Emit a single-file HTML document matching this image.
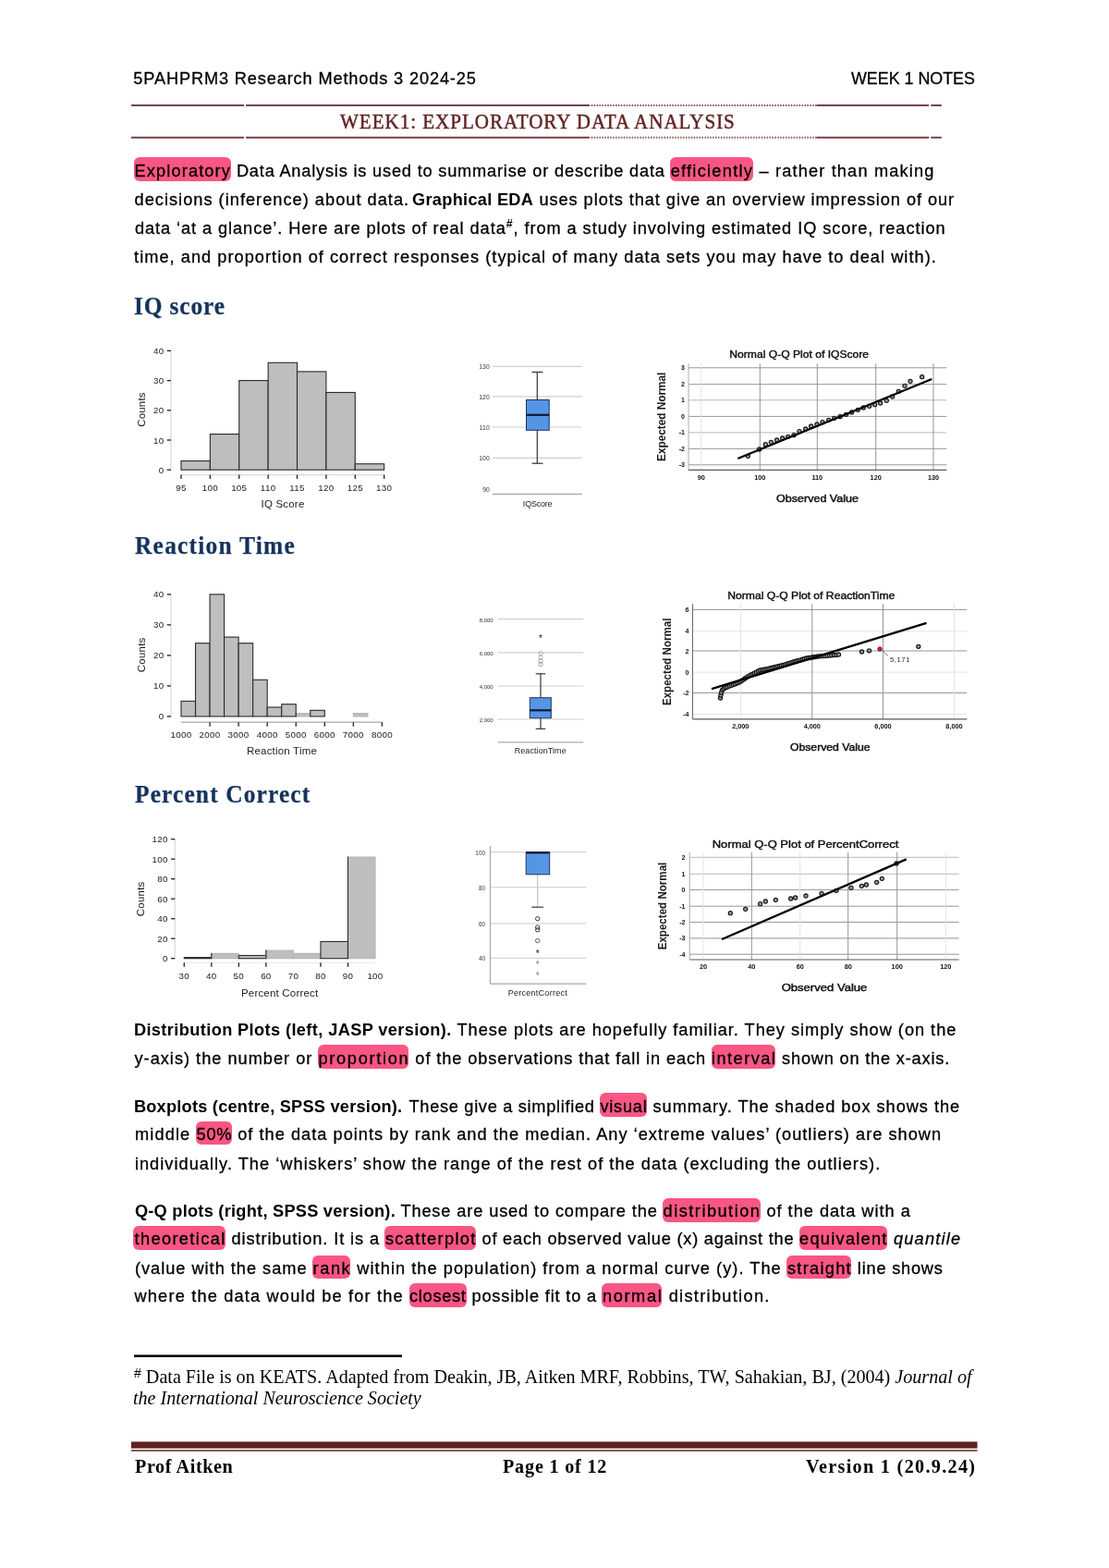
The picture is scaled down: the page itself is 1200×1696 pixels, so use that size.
<!DOCTYPE html>
<html lang="en">
<head>
<meta charset="utf-8">
<title>WEEK1: Exploratory Data Analysis</title>
<style>
html,body{margin:0;padding:0;background:#fff}
h1,h2,p{margin:0;padding:0;font:inherit}
body{width:1200px;height:1696px;position:relative;overflow:hidden;color:#000}
.t{position:absolute;display:block;white-space:nowrap;line-height:0;height:0;transform-origin:0 0;color:#000;font-weight:normal;font-style:normal}
.sans{font-family:"Liberation Sans",sans-serif;-webkit-text-stroke:0.3px currentColor}
.serif{font-family:"Liberation Serif",serif}
.sans b{font-weight:bold;-webkit-text-stroke:0}
.t i{font-style:italic}
.sup{font-size:0.68em;position:relative;top:-0.59em}
.fsup{font-family:"Liberation Sans",sans-serif;font-size:0.7em;position:relative;top:-0.37em}
.hl{position:absolute;display:block;background:#f95683;border-radius:6px}
svg{position:absolute;left:0;top:0}
svg text{font-family:"Liberation Sans",sans-serif}
</style>
</head>
<body>
<i class="hl" style="left:145px;top:169.5px;width:104.5px;height:26.3px"></i>
<i class="hl" style="left:725px;top:169.5px;width:89.5px;height:26.3px"></i>
<i class="hl" style="left:343.8px;top:1130px;width:98.5px;height:26.3px"></i>
<i class="hl" style="left:769.5px;top:1130px;width:69.9px;height:26.3px"></i>
<i class="hl" style="left:648.8px;top:1182px;width:51.5px;height:26.3px"></i>
<i class="hl" style="left:212px;top:1212.5px;width:39px;height:25px"></i>
<i class="hl" style="left:717px;top:1295.5px;width:105.5px;height:26.3px"></i>
<i class="hl" style="left:143.8px;top:1325.8px;width:100px;height:26.7px"></i>
<i class="hl" style="left:416.3px;top:1325.8px;width:98.7px;height:26.7px"></i>
<i class="hl" style="left:864.5px;top:1325.8px;width:95.5px;height:26.7px"></i>
<i class="hl" style="left:338px;top:1357.5px;width:41.3px;height:25.5px"></i>
<i class="hl" style="left:851.3px;top:1357.5px;width:70px;height:25.5px"></i>
<i class="hl" style="left:442.5px;top:1388.3px;width:62px;height:26.2px"></i>
<i class="hl" style="left:651.3px;top:1388.3px;width:65px;height:26.2px"></i>
<header>
<span class="t sans" id="hL" style="left:144.3px;top:85px;font-size:18.2px;letter-spacing:0.859px;">5PAHPRM3 Research Methods 3 2024-25</span>
<span class="t sans" id="hR" style="left:920.9px;top:85px;font-size:18.2px;transform:scaleX(0.9813);">WEEK 1 NOTES</span>
</header>
<main>
<h1>
<span class="t serif" id="ttl" style="left:368px;top:131px;font-size:23.7px;letter-spacing:1.068px;transform:scaleX(0.89);-webkit-text-stroke:0.5px;color:#632423">WEEK1: EXPLORATORY DATA ANALYSIS</span>
</h1>
<p>
<span class="t sans" id="p1" style="left:145.5px;top:185px;font-size:18.2px;"><span style="letter-spacing:1.140px">Exploratory</span><span style="letter-spacing:0.810px"> Data Analysis is used to summarise or describe data </span><span style="letter-spacing:1.280px">efficiently</span><span style="letter-spacing:1.164px"> – rather than making</span></span>
<span class="t sans" id="p2a" style="left:145.5px;top:216px;font-size:18.2px;letter-spacing:1.023px;">decisions (inference) about data. </span>
<span class="t sans" id="p2b" style="left:446px;top:216px;font-size:18.2px;letter-spacing:0.298px;"><b>Graphical EDA</b> </span>
<span class="t sans" id="p2c" style="left:583.4px;top:216px;font-size:18.2px;letter-spacing:0.947px;">uses plots that give an overview impression of our</span>
<span class="t sans" id="p3" style="left:145.9px;top:247px;font-size:18.2px;letter-spacing:0.934px;">data ‘at a glance’. Here are plots of real data<b class="sup">#</b>, from a study involving estimated IQ score, reaction</span>
<span class="t sans" id="p4" style="left:145.1px;top:278px;font-size:18.2px;letter-spacing:1.036px;">time, and proportion of correct responses (typical of many data sets you may have to deal with).</span>
</p>
<h2>
<span class="t serif" id="s1" style="left:145.37px;top:331px;font-size:26.5px;letter-spacing:0.885px;transform:scaleX(0.96);-webkit-text-stroke:0.25px;color:#15335c"><b>IQ score</b></span>
</h2>
<h2>
<span class="t serif" id="s2" style="left:146.38px;top:590px;font-size:26.5px;letter-spacing:1.283px;transform:scaleX(0.96);-webkit-text-stroke:0.25px;color:#15335c"><b>Reaction Time</b></span>
</h2>
<h2>
<span class="t serif" id="s3" style="left:146.38px;top:859px;font-size:26.5px;letter-spacing:1.171px;transform:scaleX(0.96);-webkit-text-stroke:0.25px;color:#15335c"><b>Percent Correct</b></span>
</h2>
<p>
<span class="t sans" id="a1a" style="left:144.9px;top:1114px;font-size:18.2px;letter-spacing:0.392px;"><b>Distribution Plots (left, JASP version).</b> </span>
<span class="t sans" id="a1b" style="left:494.5px;top:1114px;font-size:18.2px;letter-spacing:0.983px;">These plots are hopefully familiar. They simply show (on the</span>
<span class="t sans" id="a2" style="left:145.5px;top:1145px;font-size:18.2px;"><span style="letter-spacing:1.000px">y-axis) the number or </span><span style="letter-spacing:1.710px">proportion</span><span style="letter-spacing:0.910px"> of the observations that fall in each </span><span style="letter-spacing:1.437px">interval</span><span style="letter-spacing:0.809px"> shown on the x-axis.</span></span>
</p>
<p>
<span class="t sans" id="b1a" style="left:144.9px;top:1197px;font-size:18.2px;letter-spacing:0.235px;"><b>Boxplots (centre, SPSS version).</b> </span>
<span class="t sans" id="b1b" style="left:442.5px;top:1197px;font-size:18.2px;"><span style="letter-spacing:0.702px">These give a simplified </span><span style="letter-spacing:0.760px">visual</span><span style="letter-spacing:0.972px"> summary. The shaded box shows the</span></span>
<span class="t sans" id="b2" style="left:145.9px;top:1227px;font-size:18.2px;"><span style="letter-spacing:1.151px">middle </span><span style="letter-spacing:0.697px">50%</span><span style="letter-spacing:1.028px"> of the data points by rank and the median. Any ‘extreme values’ (outliers) are shown</span></span>
<span class="t sans" id="b3" style="left:145.9px;top:1259px;font-size:18.2px;letter-spacing:1.032px;">individually. The ‘whiskers’ show the range of the rest of the data (excluding the outliers).</span>
</p>
<p>
<span class="t sans" id="c1a" style="left:145.9px;top:1310px;font-size:18.2px;letter-spacing:0.258px;"><b>Q-Q plots (right, SPSS version).</b> </span>
<span class="t sans" id="c1b" style="left:433.4px;top:1310px;font-size:18.2px;"><span style="letter-spacing:0.880px">These are used to compare the </span><span style="letter-spacing:1.485px">distribution</span><span style="letter-spacing:0.988px"> of the data with a</span></span>
<span class="t sans" id="c2" style="left:145.5px;top:1340px;font-size:18.2px;"><span style="letter-spacing:1.378px">theoretical</span><span style="letter-spacing:0.899px"> distribution. It is a </span><span style="letter-spacing:1.359px">scatterplot</span><span style="letter-spacing:0.772px"> of each observed value (x) against the </span><span style="letter-spacing:1.264px">equivalent</span><span style="letter-spacing:1.212px"> <i>quantile</i></span></span>
<span class="t sans" id="c3" style="left:145.9px;top:1372px;font-size:18.2px;"><span style="letter-spacing:0.992px">(value with the same </span><span style="letter-spacing:1.570px">rank</span><span style="letter-spacing:1.047px"> within the population) from a normal curve (y). The </span><span style="letter-spacing:1.306px">straight</span><span style="letter-spacing:0.793px"> line shows</span></span>
<span class="t sans" id="c4" style="left:145.5px;top:1402px;font-size:18.2px;"><span style="letter-spacing:1.179px">where the data would be for the </span><span style="letter-spacing:0.698px">closest</span><span style="letter-spacing:0.835px"> possible fit to a </span><span style="letter-spacing:1.641px">normal</span><span style="letter-spacing:1.305px"> distribution.</span></span>
</p>
</main>
<footer>
<p>
<span class="t serif" id="f1" style="left:144.73px;top:1489px;font-size:21.4px;transform:scaleX(0.9400);"><span class="fsup">#</span> Data File is on KEATS. Adapted from Deakin, JB, Aitken MRF, Robbins, TW, Sahakian, BJ, (2004) <i>Journal of</i></span>
<span class="t serif" id="f2" style="left:143.95px;top:1512px;font-size:21.4px;transform:scaleX(0.9378);"><i>the International Neuroscience Society</i></span>
</p>
<p>
<span class="t serif" id="g1" style="left:145.82px;top:1586px;font-size:20.8px;letter-spacing:0.600px;transform:scaleX(0.97)"><b>Prof Aitken</b></span>
<span class="t serif" id="g2" style="left:543.8px;top:1586px;font-size:20.8px;letter-spacing:0.818px;transform:scaleX(0.97)"><b>Page 1 of 12</b></span>
<span class="t serif" id="g3" style="left:872.19px;top:1586px;font-size:20.8px;letter-spacing:1.345px;transform:scaleX(0.97)"><b>Version 1 (20.9.24)</b></span>
</p>
</footer>
<svg width="1200" height="1696" viewBox="0 0 1200 1696">
<rect x="142" y="113" width="122" height="1.9" fill="#733837"/>
<rect x="266" y="113" width="372" height="1.9" fill="#733837"/>
<rect x="883.5" y="113" width="121.7" height="1.9" fill="#733837"/>
<rect x="1007.3" y="113" width="11.5" height="1.9" fill="#733837"/>
<line x1="639.75" y1="113.95" x2="883.5" y2="113.95" stroke="#855150" stroke-width="1.9" stroke-dasharray="1.5 1.42"/>
<rect x="142" y="147.8" width="122" height="1.9" fill="#733837"/>
<rect x="266" y="147.8" width="372" height="1.9" fill="#733837"/>
<rect x="883.5" y="147.8" width="121.7" height="1.9" fill="#733837"/>
<rect x="1007.3" y="147.8" width="11.5" height="1.9" fill="#733837"/>
<line x1="639.75" y1="148.75" x2="883.5" y2="148.75" stroke="#855150" stroke-width="1.9" stroke-dasharray="1.5 1.42"/>
<rect x="145" y="1465.4" width="290" height="2.6" fill="#000"/>
<rect x="142" y="1559.4" width="915.5" height="7.2" fill="#5f2221"/>
<rect x="142" y="1568" width="915.5" height="1.9" fill="#85504f"/>
<g>
<rect x="196" y="498.54" width="31.38" height="9.66" fill="#bebebe" stroke="#2a2a2a" stroke-width="1.1"/>
<rect x="227.38" y="469.56" width="31.38" height="38.64" fill="#bebebe" stroke="#2a2a2a" stroke-width="1.1"/>
<rect x="258.76" y="411.6" width="31.38" height="96.6" fill="#bebebe" stroke="#2a2a2a" stroke-width="1.1"/>
<rect x="290.14" y="392.28" width="31.38" height="115.92" fill="#bebebe" stroke="#2a2a2a" stroke-width="1.1"/>
<rect x="321.52" y="401.94" width="31.38" height="106.26" fill="#bebebe" stroke="#2a2a2a" stroke-width="1.1"/>
<rect x="352.9" y="424.48" width="31.38" height="83.72" fill="#bebebe" stroke="#2a2a2a" stroke-width="1.1"/>
<rect x="384.28" y="501.76" width="31.38" height="6.44" fill="#bebebe" stroke="#2a2a2a" stroke-width="1.1"/>
<line x1="185" y1="379.4" x2="185" y2="508.2" stroke="#d8d8d8" stroke-width="1.2"/>
<line x1="180.7" y1="508.2" x2="185" y2="508.2" stroke="#222" stroke-width="1.3"/>
<text x="177.5" y="511.7" font-size="9.8" text-anchor="end" font-weight="normal" fill="#222" letter-spacing="0.3">0</text>
<line x1="180.7" y1="476" x2="185" y2="476" stroke="#222" stroke-width="1.3"/>
<text x="177.5" y="479.5" font-size="9.8" text-anchor="end" font-weight="normal" fill="#222" letter-spacing="0.3">10</text>
<line x1="180.7" y1="443.8" x2="185" y2="443.8" stroke="#222" stroke-width="1.3"/>
<text x="177.5" y="447.3" font-size="9.8" text-anchor="end" font-weight="normal" fill="#222" letter-spacing="0.3">20</text>
<line x1="180.7" y1="411.6" x2="185" y2="411.6" stroke="#222" stroke-width="1.3"/>
<text x="177.5" y="415.1" font-size="9.8" text-anchor="end" font-weight="normal" fill="#222" letter-spacing="0.3">30</text>
<line x1="180.7" y1="379.4" x2="185" y2="379.4" stroke="#222" stroke-width="1.3"/>
<text x="177.5" y="382.9" font-size="9.8" text-anchor="end" font-weight="normal" fill="#222" letter-spacing="0.3">40</text>
<line x1="196" y1="513.6" x2="415.66" y2="513.6" stroke="#d8d8d8" stroke-width="1.2"/>
<line x1="196" y1="513.6" x2="196" y2="518.1" stroke="#222" stroke-width="1.3"/>
<text x="196" y="530.7" font-size="9.8" text-anchor="middle" font-weight="normal" fill="#222" letter-spacing="0.3">95</text>
<line x1="227.38" y1="513.6" x2="227.38" y2="518.1" stroke="#222" stroke-width="1.3"/>
<text x="227.38" y="530.7" font-size="9.8" text-anchor="middle" font-weight="normal" fill="#222" letter-spacing="0.3">100</text>
<line x1="258.76" y1="513.6" x2="258.76" y2="518.1" stroke="#222" stroke-width="1.3"/>
<text x="258.76" y="530.7" font-size="9.8" text-anchor="middle" font-weight="normal" fill="#222" letter-spacing="0.3">105</text>
<line x1="290.14" y1="513.6" x2="290.14" y2="518.1" stroke="#222" stroke-width="1.3"/>
<text x="290.14" y="530.7" font-size="9.8" text-anchor="middle" font-weight="normal" fill="#222" letter-spacing="0.3">110</text>
<line x1="321.52" y1="513.6" x2="321.52" y2="518.1" stroke="#222" stroke-width="1.3"/>
<text x="321.52" y="530.7" font-size="9.8" text-anchor="middle" font-weight="normal" fill="#222" letter-spacing="0.3">115</text>
<line x1="352.9" y1="513.6" x2="352.9" y2="518.1" stroke="#222" stroke-width="1.3"/>
<text x="352.9" y="530.7" font-size="9.8" text-anchor="middle" font-weight="normal" fill="#222" letter-spacing="0.3">120</text>
<line x1="384.28" y1="513.6" x2="384.28" y2="518.1" stroke="#222" stroke-width="1.3"/>
<text x="384.28" y="530.7" font-size="9.8" text-anchor="middle" font-weight="normal" fill="#222" letter-spacing="0.3">125</text>
<line x1="415.66" y1="513.6" x2="415.66" y2="518.1" stroke="#222" stroke-width="1.3"/>
<text x="415.66" y="530.7" font-size="9.8" text-anchor="middle" font-weight="normal" fill="#222" letter-spacing="0.3">130</text>
<text x="306" y="549.3" font-size="11.5" text-anchor="middle" font-weight="normal" fill="#222" letter-spacing="0.2">IQ Score</text>
<text x="157" y="443" font-size="11.5" text-anchor="middle" font-weight="normal" fill="#222" transform="rotate(-90 157 443)" letter-spacing="0.2">Counts</text>
</g>
<g>
<rect x="196" y="758.4" width="15.53" height="16.5" fill="#bebebe" stroke="#2a2a2a" stroke-width="1.1"/>
<rect x="211.53" y="695.7" width="15.53" height="79.2" fill="#bebebe" stroke="#2a2a2a" stroke-width="1.1"/>
<rect x="227.06" y="642.9" width="15.53" height="132" fill="#bebebe" stroke="#2a2a2a" stroke-width="1.1"/>
<rect x="242.59" y="689.1" width="15.53" height="85.8" fill="#bebebe" stroke="#2a2a2a" stroke-width="1.1"/>
<rect x="258.12" y="695.7" width="15.53" height="79.2" fill="#bebebe" stroke="#2a2a2a" stroke-width="1.1"/>
<rect x="273.65" y="735.3" width="15.53" height="39.6" fill="#bebebe" stroke="#2a2a2a" stroke-width="1.1"/>
<rect x="289.18" y="765" width="15.53" height="9.9" fill="#bebebe" stroke="#2a2a2a" stroke-width="1.1"/>
<rect x="304.71" y="761.7" width="15.53" height="13.2" fill="#bebebe" stroke="#2a2a2a" stroke-width="1.1"/>
<rect x="320.24" y="771.6" width="15.53" height="3.3" fill="#bebebe" stroke="#b4b4b4" stroke-width="1.1"/>
<rect x="335.77" y="768.3" width="15.53" height="6.6" fill="#bebebe" stroke="#2a2a2a" stroke-width="1.1"/>
<rect x="382.36" y="771.6" width="15.53" height="3.3" fill="#bebebe" stroke="#b4b4b4" stroke-width="1.1"/>
<line x1="320.24" y1="771.1" x2="320.24" y2="775.4" stroke="#2a2a2a" stroke-width="1.1"/>
<line x1="185" y1="642.9" x2="185" y2="774.9" stroke="#d8d8d8" stroke-width="1.2"/>
<line x1="180.7" y1="774.9" x2="185" y2="774.9" stroke="#222" stroke-width="1.3"/>
<text x="177.5" y="778.4" font-size="9.8" text-anchor="end" font-weight="normal" fill="#222" letter-spacing="0.3">0</text>
<line x1="180.7" y1="741.9" x2="185" y2="741.9" stroke="#222" stroke-width="1.3"/>
<text x="177.5" y="745.4" font-size="9.8" text-anchor="end" font-weight="normal" fill="#222" letter-spacing="0.3">10</text>
<line x1="180.7" y1="708.9" x2="185" y2="708.9" stroke="#222" stroke-width="1.3"/>
<text x="177.5" y="712.4" font-size="9.8" text-anchor="end" font-weight="normal" fill="#222" letter-spacing="0.3">20</text>
<line x1="180.7" y1="675.9" x2="185" y2="675.9" stroke="#222" stroke-width="1.3"/>
<text x="177.5" y="679.4" font-size="9.8" text-anchor="end" font-weight="normal" fill="#222" letter-spacing="0.3">30</text>
<line x1="180.7" y1="642.9" x2="185" y2="642.9" stroke="#222" stroke-width="1.3"/>
<text x="177.5" y="646.4" font-size="9.8" text-anchor="end" font-weight="normal" fill="#222" letter-spacing="0.3">40</text>
<line x1="196" y1="781.2" x2="413.42" y2="781.2" stroke="#a8a8a8" stroke-width="1.2"/>
<text x="196" y="797.8" font-size="9.8" text-anchor="middle" font-weight="normal" fill="#222" letter-spacing="0.3">1000</text>
<line x1="227.06" y1="781.2" x2="227.06" y2="785.7" stroke="#222" stroke-width="1.3"/>
<text x="227.06" y="797.8" font-size="9.8" text-anchor="middle" font-weight="normal" fill="#222" letter-spacing="0.3">2000</text>
<line x1="258.12" y1="781.2" x2="258.12" y2="785.7" stroke="#222" stroke-width="1.3"/>
<text x="258.12" y="797.8" font-size="9.8" text-anchor="middle" font-weight="normal" fill="#222" letter-spacing="0.3">3000</text>
<line x1="289.18" y1="781.2" x2="289.18" y2="785.7" stroke="#222" stroke-width="1.3"/>
<text x="289.18" y="797.8" font-size="9.8" text-anchor="middle" font-weight="normal" fill="#222" letter-spacing="0.3">4000</text>
<line x1="320.24" y1="781.2" x2="320.24" y2="785.7" stroke="#222" stroke-width="1.3"/>
<text x="320.24" y="797.8" font-size="9.8" text-anchor="middle" font-weight="normal" fill="#222" letter-spacing="0.3">5000</text>
<line x1="351.3" y1="781.2" x2="351.3" y2="785.7" stroke="#222" stroke-width="1.3"/>
<text x="351.3" y="797.8" font-size="9.8" text-anchor="middle" font-weight="normal" fill="#222" letter-spacing="0.3">6000</text>
<line x1="382.36" y1="781.2" x2="382.36" y2="785.7" stroke="#222" stroke-width="1.3"/>
<text x="382.36" y="797.8" font-size="9.8" text-anchor="middle" font-weight="normal" fill="#222" letter-spacing="0.3">7000</text>
<line x1="413.42" y1="781.2" x2="413.42" y2="785.7" stroke="#222" stroke-width="1.3"/>
<text x="413.42" y="797.8" font-size="9.8" text-anchor="middle" font-weight="normal" fill="#222" letter-spacing="0.3">8000</text>
<text x="305" y="816.3" font-size="11.5" text-anchor="middle" font-weight="normal" fill="#222" letter-spacing="0.2">Reaction Time</text>
<text x="157.3" y="708.3" font-size="11.5" text-anchor="middle" font-weight="normal" fill="#222" transform="rotate(-90 157.3 708.3)" letter-spacing="0.2">Counts</text>
</g>
<g>
<rect x="199.3" y="1035.62" width="29.53" height="1.08" fill="#bebebe" stroke="#2a2a2a" stroke-width="1.1"/>
<rect x="228.83" y="1031.33" width="29.53" height="5.38" fill="#bebebe" stroke="#b4b4b4" stroke-width="1.1"/>
<rect x="258.36" y="1033.48" width="29.53" height="3.22" fill="#bebebe" stroke="#2a2a2a" stroke-width="1.1"/>
<rect x="287.89" y="1028.1" width="29.53" height="8.6" fill="#bebebe" stroke="#b4b4b4" stroke-width="1.1"/>
<rect x="317.42" y="1031.33" width="29.53" height="5.38" fill="#bebebe" stroke="#b4b4b4" stroke-width="1.1"/>
<rect x="346.95" y="1018.43" width="29.53" height="18.27" fill="#bebebe" stroke="#2a2a2a" stroke-width="1.1"/>
<rect x="376.48" y="927.05" width="29.53" height="109.65" fill="#bebebe" stroke="#b4b4b4" stroke-width="1.1"/>
<line x1="228.83" y1="1030.83" x2="228.83" y2="1037.2" stroke="#2a2a2a" stroke-width="1.1"/>
<line x1="287.89" y1="1027.6" x2="287.89" y2="1037.2" stroke="#2a2a2a" stroke-width="1.1"/>
<line x1="376.48" y1="926.55" x2="376.48" y2="1037.2" stroke="#2a2a2a" stroke-width="1.1"/>
<line x1="189.3" y1="907.7" x2="189.3" y2="1036.7" stroke="#d8d8d8" stroke-width="1.2"/>
<line x1="185" y1="1036.7" x2="189.3" y2="1036.7" stroke="#222" stroke-width="1.3"/>
<text x="181.8" y="1040.2" font-size="9.8" text-anchor="end" font-weight="normal" fill="#222" letter-spacing="0.3">0</text>
<line x1="185" y1="1015.2" x2="189.3" y2="1015.2" stroke="#222" stroke-width="1.3"/>
<text x="181.8" y="1018.7" font-size="9.8" text-anchor="end" font-weight="normal" fill="#222" letter-spacing="0.3">20</text>
<line x1="185" y1="993.7" x2="189.3" y2="993.7" stroke="#222" stroke-width="1.3"/>
<text x="181.8" y="997.2" font-size="9.8" text-anchor="end" font-weight="normal" fill="#222" letter-spacing="0.3">40</text>
<line x1="185" y1="972.2" x2="189.3" y2="972.2" stroke="#222" stroke-width="1.3"/>
<text x="181.8" y="975.7" font-size="9.8" text-anchor="end" font-weight="normal" fill="#222" letter-spacing="0.3">60</text>
<line x1="185" y1="950.7" x2="189.3" y2="950.7" stroke="#222" stroke-width="1.3"/>
<text x="181.8" y="954.2" font-size="9.8" text-anchor="end" font-weight="normal" fill="#222" letter-spacing="0.3">80</text>
<line x1="185" y1="929.2" x2="189.3" y2="929.2" stroke="#222" stroke-width="1.3"/>
<text x="181.8" y="932.7" font-size="9.8" text-anchor="end" font-weight="normal" fill="#222" letter-spacing="0.3">100</text>
<line x1="185" y1="907.7" x2="189.3" y2="907.7" stroke="#222" stroke-width="1.3"/>
<text x="181.8" y="911.2" font-size="9.8" text-anchor="end" font-weight="normal" fill="#222" letter-spacing="0.3">120</text>
<line x1="199.3" y1="1041.3" x2="406.01" y2="1041.3" stroke="#ececec" stroke-width="1.2"/>
<line x1="199.3" y1="1041.3" x2="199.3" y2="1045.8" stroke="#222" stroke-width="1.3"/>
<text x="199.3" y="1059.2" font-size="9.8" text-anchor="middle" font-weight="normal" fill="#222" letter-spacing="0.3">30</text>
<line x1="228.83" y1="1041.3" x2="228.83" y2="1045.8" stroke="#222" stroke-width="1.3"/>
<text x="228.83" y="1059.2" font-size="9.8" text-anchor="middle" font-weight="normal" fill="#222" letter-spacing="0.3">40</text>
<line x1="258.36" y1="1041.3" x2="258.36" y2="1045.8" stroke="#222" stroke-width="1.3"/>
<text x="258.36" y="1059.2" font-size="9.8" text-anchor="middle" font-weight="normal" fill="#222" letter-spacing="0.3">50</text>
<line x1="287.89" y1="1041.3" x2="287.89" y2="1045.8" stroke="#222" stroke-width="1.3"/>
<text x="287.89" y="1059.2" font-size="9.8" text-anchor="middle" font-weight="normal" fill="#222" letter-spacing="0.3">60</text>
<text x="317.42" y="1059.2" font-size="9.8" text-anchor="middle" font-weight="normal" fill="#222" letter-spacing="0.3">70</text>
<line x1="346.95" y1="1041.3" x2="346.95" y2="1045.8" stroke="#222" stroke-width="1.3"/>
<text x="346.95" y="1059.2" font-size="9.8" text-anchor="middle" font-weight="normal" fill="#222" letter-spacing="0.3">80</text>
<line x1="376.48" y1="1041.3" x2="376.48" y2="1045.8" stroke="#222" stroke-width="1.3"/>
<text x="376.48" y="1059.2" font-size="9.8" text-anchor="middle" font-weight="normal" fill="#222" letter-spacing="0.3">90</text>
<text x="406.01" y="1059.2" font-size="9.8" text-anchor="middle" font-weight="normal" fill="#222" letter-spacing="0.3">100</text>
<text x="302.7" y="1078.3" font-size="11.5" text-anchor="middle" font-weight="normal" fill="#222" letter-spacing="0.2">Percent Correct</text>
<text x="156.3" y="972.3" font-size="11.5" text-anchor="middle" font-weight="normal" fill="#222" transform="rotate(-90 156.3 972.3)" letter-spacing="0.2">Counts</text>
</g>
<g>
<line x1="533" y1="396.3" x2="629.7" y2="396.3" stroke="#d0d0d0" stroke-width="1.2"/>
<text x="529.7" y="399.2" font-size="6.8" text-anchor="end" font-weight="normal" fill="#333">130</text>
<line x1="533" y1="428.8" x2="629.7" y2="428.8" stroke="#d0d0d0" stroke-width="1.2"/>
<text x="529.7" y="431.7" font-size="6.8" text-anchor="end" font-weight="normal" fill="#333">120</text>
<line x1="533" y1="462" x2="629.7" y2="462" stroke="#d0d0d0" stroke-width="1.2"/>
<text x="529.7" y="464.9" font-size="6.8" text-anchor="end" font-weight="normal" fill="#333">110</text>
<line x1="533" y1="495.3" x2="629.7" y2="495.3" stroke="#d0d0d0" stroke-width="1.2"/>
<text x="529.7" y="498.2" font-size="6.8" text-anchor="end" font-weight="normal" fill="#333">100</text>
<line x1="533" y1="534.5" x2="629.7" y2="534.5" stroke="#aaa" stroke-width="1.3"/>
<line x1="581.3" y1="402.5" x2="581.3" y2="432.5" stroke="#333" stroke-width="1.2"/>
<line x1="575.5" y1="402.5" x2="587.5" y2="402.5" stroke="#333" stroke-width="1.2"/>
<line x1="581.3" y1="465.3" x2="581.3" y2="501.2" stroke="#333" stroke-width="1.2"/>
<line x1="575.5" y1="501.2" x2="587.5" y2="501.2" stroke="#333" stroke-width="1.2"/>
<rect x="569.5" y="432.5" width="24.7" height="32.8" fill="#5595e6" stroke="#1d3557" stroke-width="1"/>
<line x1="569.5" y1="448.8" x2="594.2" y2="448.8" stroke="#0b1a33" stroke-width="2.2"/>
<text x="581.7" y="547.9" font-size="9" text-anchor="middle" font-weight="normal" fill="#222" textLength="31.7" lengthAdjust="spacing">IQScore</text>
</g>
<text x="529.7" y="531.6" font-size="6.8" text-anchor="end" font-weight="normal" fill="#333">90</text>
<g>
<line x1="538.7" y1="669.7" x2="631.2" y2="669.7" stroke="#d0d0d0" stroke-width="1.2"/>
<text x="533.7" y="672.6" font-size="6" text-anchor="end" font-weight="normal" fill="#333">8,000</text>
<line x1="538.7" y1="705.8" x2="631.2" y2="705.8" stroke="#d0d0d0" stroke-width="1.2"/>
<text x="533.7" y="708.7" font-size="6" text-anchor="end" font-weight="normal" fill="#333">6,000</text>
<line x1="538.7" y1="742" x2="631.2" y2="742" stroke="#d0d0d0" stroke-width="1.2"/>
<text x="533.7" y="744.9" font-size="6" text-anchor="end" font-weight="normal" fill="#333">4,000</text>
<line x1="538.7" y1="778" x2="631.2" y2="778" stroke="#d0d0d0" stroke-width="1.2"/>
<text x="533.7" y="780.9" font-size="6" text-anchor="end" font-weight="normal" fill="#333">2,000</text>
<line x1="538.7" y1="802.8" x2="631.2" y2="802.8" stroke="#aaa" stroke-width="1.3"/>
<line x1="585" y1="728.8" x2="585" y2="754.7" stroke="#333" stroke-width="1.2"/>
<line x1="579.7" y1="728.8" x2="590.3" y2="728.8" stroke="#333" stroke-width="1.2"/>
<line x1="585" y1="776.7" x2="585" y2="788.3" stroke="#333" stroke-width="1.2"/>
<line x1="579.7" y1="788.3" x2="590.3" y2="788.3" stroke="#333" stroke-width="1.2"/>
<rect x="573.3" y="754.7" width="23" height="22" fill="#5595e6" stroke="#1d3557" stroke-width="1"/>
<line x1="573.3" y1="768.3" x2="596.3" y2="768.3" stroke="#0b1a33" stroke-width="2.2"/>
<circle cx="585" cy="706.7" r="2.2" fill="none" stroke="#222" stroke-width="1" opacity="0.3"/>
<circle cx="585" cy="711" r="2.2" fill="none" stroke="#222" stroke-width="1" opacity="0.3"/>
<circle cx="585" cy="715" r="2.2" fill="none" stroke="#222" stroke-width="1" opacity="0.35"/>
<circle cx="585" cy="718.5" r="2.2" fill="none" stroke="#222" stroke-width="1" opacity="0.4"/>
<text x="585" y="693.9" font-size="10" text-anchor="middle" font-weight="normal" fill="#111" opacity="1">*</text>
<text x="584.7" y="814.9" font-size="9" text-anchor="middle" font-weight="normal" fill="#222" textLength="56" lengthAdjust="spacing">ReactionTime</text>
</g>
<g>
<line x1="530.5" y1="921.7" x2="634.2" y2="921.7" stroke="#d6d6d6" stroke-width="1.2"/>
<text x="525" y="924.6" font-size="6.4" text-anchor="end" font-weight="normal" fill="#333">100</text>
<line x1="530.5" y1="959.7" x2="634.2" y2="959.7" stroke="#d6d6d6" stroke-width="1.2"/>
<text x="525" y="962.6" font-size="6.4" text-anchor="end" font-weight="normal" fill="#333">80</text>
<line x1="530.5" y1="998.8" x2="634.2" y2="998.8" stroke="#d6d6d6" stroke-width="1.2"/>
<text x="525" y="1001.7" font-size="6.4" text-anchor="end" font-weight="normal" fill="#333">60</text>
<line x1="530.5" y1="1036.3" x2="634.2" y2="1036.3" stroke="#d6d6d6" stroke-width="1.2"/>
<text x="525" y="1039.2" font-size="6.4" text-anchor="end" font-weight="normal" fill="#333">40</text>
<line x1="530.5" y1="1064.2" x2="634.2" y2="1064.2" stroke="#aaa" stroke-width="1.3"/>
<line x1="530.5" y1="915" x2="530.5" y2="1064.2" stroke="#aaa" stroke-width="1.3"/>
<line x1="581.7" y1="945.8" x2="581.7" y2="981.2" stroke="#c4c4c4" stroke-width="1.2"/>
<line x1="575.3" y1="981.2" x2="588" y2="981.2" stroke="#333" stroke-width="1.2"/>
<rect x="569.2" y="921.7" width="25.5" height="24.1" fill="#5595e6" stroke="#1d3557" stroke-width="1"/>
<line x1="569.2" y1="922.3" x2="594.7" y2="922.3" stroke="#0b1a33" stroke-width="2.2"/>
<circle cx="581.7" cy="993.7" r="2.2" fill="none" stroke="#222" stroke-width="1" opacity="0.9"/>
<circle cx="581.7" cy="1003" r="2.2" fill="none" stroke="#222" stroke-width="1" opacity="0.9"/>
<circle cx="581.7" cy="1005.8" r="2.2" fill="none" stroke="#222" stroke-width="1" opacity="0.9"/>
<circle cx="581.7" cy="1017.5" r="2.2" fill="none" stroke="#222" stroke-width="1" opacity="0.7"/>
<text x="581.7" y="1034.8" font-size="10" text-anchor="middle" font-weight="normal" fill="#111" opacity="1">*</text>
<text x="581.7" y="1046.9" font-size="10" text-anchor="middle" font-weight="normal" fill="#111" opacity="0.55">*</text>
<text x="581.7" y="1058.9" font-size="10" text-anchor="middle" font-weight="normal" fill="#111" opacity="0.55">*</text>
<text x="581.7" y="1076.5" font-size="9" text-anchor="middle" font-weight="normal" fill="#222" textLength="64" lengthAdjust="spacing">PercentCorrect</text>
</g>
<g>
<line x1="745" y1="397.8" x2="1024.3" y2="397.8" stroke="#959595" stroke-width="1"/>
<text x="741" y="400.3" font-size="7" text-anchor="end" font-weight="bold" fill="#111">3</text>
<line x1="745" y1="415.7" x2="1024.3" y2="415.7" stroke="#959595" stroke-width="1"/>
<text x="741" y="418.2" font-size="7" text-anchor="end" font-weight="bold" fill="#111">2</text>
<line x1="745" y1="432.8" x2="1024.3" y2="432.8" stroke="#b9b9b9" stroke-width="1"/>
<text x="741" y="435.3" font-size="7" text-anchor="end" font-weight="bold" fill="#111">1</text>
<line x1="745" y1="450.4" x2="1024.3" y2="450.4" stroke="#959595" stroke-width="1"/>
<text x="741" y="452.9" font-size="7" text-anchor="end" font-weight="bold" fill="#111">0</text>
<line x1="745" y1="467.9" x2="1024.3" y2="467.9" stroke="#b9b9b9" stroke-width="1"/>
<text x="741" y="470.4" font-size="7" text-anchor="end" font-weight="bold" fill="#111">-1</text>
<line x1="745" y1="485.3" x2="1024.3" y2="485.3" stroke="#959595" stroke-width="1"/>
<text x="741" y="487.8" font-size="7" text-anchor="end" font-weight="bold" fill="#111">-2</text>
<line x1="745" y1="502.8" x2="1024.3" y2="502.8" stroke="#959595" stroke-width="1"/>
<text x="741" y="505.3" font-size="7" text-anchor="end" font-weight="bold" fill="#111">-3</text>
<line x1="758.8" y1="393.3" x2="758.8" y2="508.4" stroke="#e3e3e3" stroke-width="1"/>
<text x="758.8" y="519" font-size="7.3" text-anchor="middle" font-weight="bold" fill="#111">90</text>
<line x1="822.3" y1="393.3" x2="822.3" y2="508.4" stroke="#959595" stroke-width="1"/>
<text x="822.3" y="519" font-size="7.3" text-anchor="middle" font-weight="bold" fill="#111">100</text>
<line x1="884.3" y1="393.3" x2="884.3" y2="508.4" stroke="#959595" stroke-width="1"/>
<text x="884.3" y="519" font-size="7.3" text-anchor="middle" font-weight="bold" fill="#111">110</text>
<line x1="947.7" y1="393.3" x2="947.7" y2="508.4" stroke="#959595" stroke-width="1"/>
<text x="947.7" y="519" font-size="7.3" text-anchor="middle" font-weight="bold" fill="#111">120</text>
<line x1="1010" y1="393.3" x2="1010" y2="508.4" stroke="#959595" stroke-width="1"/>
<text x="1010" y="519" font-size="7.3" text-anchor="middle" font-weight="bold" fill="#111">130</text>
<line x1="745" y1="393.3" x2="745" y2="508.4" stroke="#b4b4b4" stroke-width="1.1"/>
<line x1="745" y1="508.4" x2="1024.3" y2="508.4" stroke="#5a5a5a" stroke-width="1.2"/>
<circle cx="809.33" cy="493.33" r="2.1" fill="#9a9a9a" stroke="#111" stroke-width="1.1"/>
<circle cx="821.67" cy="486" r="2.1" fill="#9a9a9a" stroke="#111" stroke-width="1.1"/>
<circle cx="828.33" cy="480.67" r="2.1" fill="#9a9a9a" stroke="#111" stroke-width="1.1"/>
<circle cx="834.33" cy="478.33" r="2.1" fill="#9a9a9a" stroke="#111" stroke-width="1.1"/>
<circle cx="840.67" cy="476" r="2.1" fill="#9a9a9a" stroke="#111" stroke-width="1.1"/>
<circle cx="846.67" cy="474" r="2.1" fill="#9a9a9a" stroke="#111" stroke-width="1.1"/>
<circle cx="852.67" cy="472.33" r="2.1" fill="#9a9a9a" stroke="#111" stroke-width="1.1"/>
<circle cx="859" cy="470.67" r="2.1" fill="#9a9a9a" stroke="#111" stroke-width="1.1"/>
<circle cx="865" cy="466.67" r="2.1" fill="#9a9a9a" stroke="#111" stroke-width="1.1"/>
<circle cx="871.67" cy="464" r="2.1" fill="#9a9a9a" stroke="#111" stroke-width="1.1"/>
<circle cx="877.67" cy="461" r="2.1" fill="#9a9a9a" stroke="#111" stroke-width="1.1"/>
<circle cx="884" cy="459" r="2.1" fill="#9a9a9a" stroke="#111" stroke-width="1.1"/>
<circle cx="890" cy="456.67" r="2.1" fill="#9a9a9a" stroke="#111" stroke-width="1.1"/>
<circle cx="896.67" cy="454.33" r="2.1" fill="#9a9a9a" stroke="#111" stroke-width="1.1"/>
<circle cx="902.67" cy="452.33" r="2.1" fill="#9a9a9a" stroke="#111" stroke-width="1.1"/>
<circle cx="909" cy="450.67" r="2.1" fill="#9a9a9a" stroke="#111" stroke-width="1.1"/>
<circle cx="915.67" cy="448.33" r="2.1" fill="#9a9a9a" stroke="#111" stroke-width="1.1"/>
<circle cx="921.67" cy="446" r="2.1" fill="#9a9a9a" stroke="#111" stroke-width="1.1"/>
<circle cx="928.33" cy="443.33" r="2.1" fill="#9a9a9a" stroke="#111" stroke-width="1.1"/>
<circle cx="934.33" cy="441" r="2.1" fill="#9a9a9a" stroke="#111" stroke-width="1.1"/>
<circle cx="940.67" cy="439.33" r="2.1" fill="#9a9a9a" stroke="#111" stroke-width="1.1"/>
<circle cx="946.67" cy="437.67" r="2.1" fill="#9a9a9a" stroke="#111" stroke-width="1.1"/>
<circle cx="952.67" cy="436" r="2.1" fill="#9a9a9a" stroke="#111" stroke-width="1.1"/>
<circle cx="959.33" cy="433.33" r="2.1" fill="#9a9a9a" stroke="#111" stroke-width="1.1"/>
<circle cx="965.67" cy="429" r="2.1" fill="#9a9a9a" stroke="#111" stroke-width="1.1"/>
<circle cx="972.33" cy="423.33" r="2.1" fill="#9a9a9a" stroke="#111" stroke-width="1.1"/>
<circle cx="979" cy="417.33" r="2.1" fill="#9a9a9a" stroke="#111" stroke-width="1.1"/>
<circle cx="985" cy="412.33" r="2.1" fill="#9a9a9a" stroke="#111" stroke-width="1.1"/>
<circle cx="997.67" cy="407.67" r="2.1" fill="#9a9a9a" stroke="#111" stroke-width="1.1"/>
<line x1="798.3" y1="496" x2="1008.3" y2="410" stroke="#000" stroke-width="2.4"/>
<text x="789.35" y="387.2" font-size="10.8" text-anchor="start" font-weight="normal" fill="#111" stroke="#111" stroke-width="0.4" textLength="150.7" lengthAdjust="spacingAndGlyphs">Normal Q-Q Plot of IQScore</text>
<text x="840" y="542.5" font-size="11.2" text-anchor="start" font-weight="normal" fill="#111" stroke="#111" stroke-width="0.45" textLength="89" lengthAdjust="spacingAndGlyphs">Observed Value</text>
<text x="720.2" y="498.9" font-size="13.3" text-anchor="start" font-weight="bold" fill="#1a1a1a" transform="rotate(-90 720.2 498.9)" textLength="96.2" lengthAdjust="spacingAndGlyphs">Expected Normal</text>
</g>
<g>
<line x1="749.4" y1="659.4" x2="1046.3" y2="659.4" stroke="#959595" stroke-width="1"/>
<text x="745.5" y="661.9" font-size="7" text-anchor="end" font-weight="bold" fill="#111">6</text>
<line x1="749.4" y1="682.9" x2="1046.3" y2="682.9" stroke="#e3e3e3" stroke-width="1"/>
<text x="745.5" y="685.4" font-size="7" text-anchor="end" font-weight="bold" fill="#111">4</text>
<line x1="749.4" y1="704" x2="1046.3" y2="704" stroke="#959595" stroke-width="1"/>
<text x="745.5" y="706.5" font-size="7" text-anchor="end" font-weight="bold" fill="#111">2</text>
<line x1="749.4" y1="727.1" x2="1046.3" y2="727.1" stroke="#e3e3e3" stroke-width="1"/>
<text x="745.5" y="729.6" font-size="7" text-anchor="end" font-weight="bold" fill="#111">0</text>
<line x1="749.4" y1="749.4" x2="1046.3" y2="749.4" stroke="#959595" stroke-width="1"/>
<text x="745.5" y="751.9" font-size="7" text-anchor="end" font-weight="bold" fill="#111">-2</text>
<line x1="749.4" y1="772.5" x2="1046.3" y2="772.5" stroke="#e3e3e3" stroke-width="1"/>
<text x="745.5" y="775" font-size="7" text-anchor="end" font-weight="bold" fill="#111">-4</text>
<line x1="801.3" y1="653.2" x2="801.3" y2="777.8" stroke="#e3e3e3" stroke-width="1"/>
<text x="801.3" y="788.3" font-size="7.3" text-anchor="middle" font-weight="bold" fill="#111">2,000</text>
<line x1="878.8" y1="653.2" x2="878.8" y2="777.8" stroke="#959595" stroke-width="1"/>
<text x="878.8" y="788.3" font-size="7.3" text-anchor="middle" font-weight="bold" fill="#111">4,000</text>
<line x1="955.5" y1="653.2" x2="955.5" y2="777.8" stroke="#959595" stroke-width="1"/>
<text x="955.5" y="788.3" font-size="7.3" text-anchor="middle" font-weight="bold" fill="#111">6,000</text>
<line x1="1032.5" y1="653.2" x2="1032.5" y2="777.8" stroke="#e3e3e3" stroke-width="1"/>
<text x="1032.5" y="788.3" font-size="7.3" text-anchor="middle" font-weight="bold" fill="#111">8,000</text>
<line x1="749.4" y1="653.2" x2="749.4" y2="777.8" stroke="#666" stroke-width="1.1"/>
<line x1="749.4" y1="777.8" x2="1046.3" y2="777.8" stroke="#5a5a5a" stroke-width="1.2"/>
<circle cx="779.5" cy="755" r="2.1" fill="#9a9a9a" stroke="#111" stroke-width="1.1"/>
<circle cx="780" cy="752" r="2.1" fill="#9a9a9a" stroke="#111" stroke-width="1.1"/>
<circle cx="780.6" cy="749" r="2.1" fill="#9a9a9a" stroke="#111" stroke-width="1.1"/>
<circle cx="781.5" cy="746.3" r="2.1" fill="#9a9a9a" stroke="#111" stroke-width="1.1"/>
<circle cx="783.2" cy="745" r="2.1" fill="#9a9a9a" stroke="#111" stroke-width="1.1"/>
<circle cx="785" cy="743.8" r="2.1" fill="#9a9a9a" stroke="#111" stroke-width="1.1"/>
<circle cx="787.1" cy="743" r="2.1" fill="#9a9a9a" stroke="#111" stroke-width="1.1"/>
<circle cx="789.3" cy="742.1" r="2.1" fill="#9a9a9a" stroke="#111" stroke-width="1.1"/>
<circle cx="791.4" cy="741.3" r="2.1" fill="#9a9a9a" stroke="#111" stroke-width="1.1"/>
<circle cx="793.6" cy="740.5" r="2.1" fill="#9a9a9a" stroke="#111" stroke-width="1.1"/>
<circle cx="795.7" cy="739.7" r="2.1" fill="#9a9a9a" stroke="#111" stroke-width="1.1"/>
<circle cx="797.9" cy="738.8" r="2.1" fill="#9a9a9a" stroke="#111" stroke-width="1.1"/>
<circle cx="800" cy="738" r="2.1" fill="#9a9a9a" stroke="#111" stroke-width="1.1"/>
<circle cx="802" cy="736.7" r="2.1" fill="#9a9a9a" stroke="#111" stroke-width="1.1"/>
<circle cx="804" cy="735.3" r="2.1" fill="#9a9a9a" stroke="#111" stroke-width="1.1"/>
<circle cx="806" cy="734" r="2.1" fill="#9a9a9a" stroke="#111" stroke-width="1.1"/>
<circle cx="808" cy="732.6" r="2.1" fill="#9a9a9a" stroke="#111" stroke-width="1.1"/>
<circle cx="810" cy="731.3" r="2.1" fill="#9a9a9a" stroke="#111" stroke-width="1.1"/>
<circle cx="812.1" cy="730.2" r="2.1" fill="#9a9a9a" stroke="#111" stroke-width="1.1"/>
<circle cx="814.2" cy="729.2" r="2.1" fill="#9a9a9a" stroke="#111" stroke-width="1.1"/>
<circle cx="816.2" cy="728.1" r="2.1" fill="#9a9a9a" stroke="#111" stroke-width="1.1"/>
<circle cx="818.3" cy="727.1" r="2.1" fill="#9a9a9a" stroke="#111" stroke-width="1.1"/>
<circle cx="820.4" cy="726" r="2.1" fill="#9a9a9a" stroke="#111" stroke-width="1.1"/>
<circle cx="822.5" cy="725" r="2.1" fill="#9a9a9a" stroke="#111" stroke-width="1.1"/>
<circle cx="824.6" cy="724.6" r="2.1" fill="#9a9a9a" stroke="#111" stroke-width="1.1"/>
<circle cx="826.7" cy="724.2" r="2.1" fill="#9a9a9a" stroke="#111" stroke-width="1.1"/>
<circle cx="828.8" cy="723.8" r="2.1" fill="#9a9a9a" stroke="#111" stroke-width="1.1"/>
<circle cx="830.8" cy="723.3" r="2.1" fill="#9a9a9a" stroke="#111" stroke-width="1.1"/>
<circle cx="832.9" cy="722.9" r="2.1" fill="#9a9a9a" stroke="#111" stroke-width="1.1"/>
<circle cx="835" cy="722.5" r="2.1" fill="#9a9a9a" stroke="#111" stroke-width="1.1"/>
<circle cx="837.1" cy="722" r="2.1" fill="#9a9a9a" stroke="#111" stroke-width="1.1"/>
<circle cx="839.2" cy="721.5" r="2.1" fill="#9a9a9a" stroke="#111" stroke-width="1.1"/>
<circle cx="841.2" cy="721" r="2.1" fill="#9a9a9a" stroke="#111" stroke-width="1.1"/>
<circle cx="843.3" cy="720.5" r="2.1" fill="#9a9a9a" stroke="#111" stroke-width="1.1"/>
<circle cx="845.4" cy="720" r="2.1" fill="#9a9a9a" stroke="#111" stroke-width="1.1"/>
<circle cx="847.5" cy="719.5" r="2.1" fill="#9a9a9a" stroke="#111" stroke-width="1.1"/>
<circle cx="849.6" cy="718.8" r="2.1" fill="#9a9a9a" stroke="#111" stroke-width="1.1"/>
<circle cx="851.7" cy="718.2" r="2.1" fill="#9a9a9a" stroke="#111" stroke-width="1.1"/>
<circle cx="853.8" cy="717.5" r="2.1" fill="#9a9a9a" stroke="#111" stroke-width="1.1"/>
<circle cx="855.8" cy="716.8" r="2.1" fill="#9a9a9a" stroke="#111" stroke-width="1.1"/>
<circle cx="857.9" cy="716.2" r="2.1" fill="#9a9a9a" stroke="#111" stroke-width="1.1"/>
<circle cx="860" cy="715.5" r="2.1" fill="#9a9a9a" stroke="#111" stroke-width="1.1"/>
<circle cx="862.1" cy="714.9" r="2.1" fill="#9a9a9a" stroke="#111" stroke-width="1.1"/>
<circle cx="864.2" cy="714.3" r="2.1" fill="#9a9a9a" stroke="#111" stroke-width="1.1"/>
<circle cx="866.2" cy="713.8" r="2.1" fill="#9a9a9a" stroke="#111" stroke-width="1.1"/>
<circle cx="868.3" cy="713.2" r="2.1" fill="#9a9a9a" stroke="#111" stroke-width="1.1"/>
<circle cx="870.4" cy="712.6" r="2.1" fill="#9a9a9a" stroke="#111" stroke-width="1.1"/>
<circle cx="872.5" cy="712" r="2.1" fill="#9a9a9a" stroke="#111" stroke-width="1.1"/>
<circle cx="874.6" cy="711.7" r="2.1" fill="#9a9a9a" stroke="#111" stroke-width="1.1"/>
<circle cx="876.7" cy="711.3" r="2.1" fill="#9a9a9a" stroke="#111" stroke-width="1.1"/>
<circle cx="878.8" cy="711" r="2.1" fill="#9a9a9a" stroke="#111" stroke-width="1.1"/>
<circle cx="880.8" cy="710.7" r="2.1" fill="#9a9a9a" stroke="#111" stroke-width="1.1"/>
<circle cx="882.9" cy="710.3" r="2.1" fill="#9a9a9a" stroke="#111" stroke-width="1.1"/>
<circle cx="885" cy="710" r="2.1" fill="#9a9a9a" stroke="#111" stroke-width="1.1"/>
<circle cx="887.5" cy="709.8" r="2.1" fill="#9a9a9a" stroke="#111" stroke-width="1.1"/>
<circle cx="890" cy="709.6" r="2.1" fill="#9a9a9a" stroke="#111" stroke-width="1.1"/>
<circle cx="892.5" cy="709.4" r="2.1" fill="#9a9a9a" stroke="#111" stroke-width="1.1"/>
<circle cx="895" cy="709.2" r="2.1" fill="#9a9a9a" stroke="#111" stroke-width="1.1"/>
<circle cx="897.5" cy="709" r="2.1" fill="#9a9a9a" stroke="#111" stroke-width="1.1"/>
<circle cx="900" cy="708.8" r="2.1" fill="#9a9a9a" stroke="#111" stroke-width="1.1"/>
<circle cx="902.5" cy="708.5" r="2.1" fill="#9a9a9a" stroke="#111" stroke-width="1.1"/>
<circle cx="905" cy="708.3" r="2.1" fill="#9a9a9a" stroke="#111" stroke-width="1.1"/>
<circle cx="907.5" cy="708" r="2.1" fill="#9a9a9a" stroke="#111" stroke-width="1.1"/>
<circle cx="932.5" cy="705" r="2.1" fill="#9a9a9a" stroke="#111" stroke-width="1.1"/>
<circle cx="940.5" cy="703.8" r="2.1" fill="#9a9a9a" stroke="#111" stroke-width="1.1"/>
<circle cx="993.8" cy="699.3" r="2.1" fill="#9a9a9a" stroke="#111" stroke-width="1.1"/>
<circle cx="952" cy="702" r="2.3" fill="#e3173e" stroke="#7a1020" stroke-width="0.8"/>
<line x1="954.5" y1="703.5" x2="961" y2="709.5" stroke="#555" stroke-width="0.8"/>
<text x="963" y="716.3" font-size="7.6" text-anchor="start" font-weight="normal" fill="#222" letter-spacing="0.6">5,171</text>
<line x1="770" y1="745.2" x2="1002.5" y2="673.8" stroke="#000" stroke-width="2.4"/>
<text x="787.3" y="648.3" font-size="10.8" text-anchor="start" font-weight="normal" fill="#111" stroke="#111" stroke-width="0.4" textLength="181" lengthAdjust="spacingAndGlyphs">Normal Q-Q Plot of ReactionTime</text>
<text x="854.95" y="812" font-size="11.2" text-anchor="start" font-weight="normal" fill="#111" stroke="#111" stroke-width="0.45" textLength="86.7" lengthAdjust="spacingAndGlyphs">Observed Value</text>
<text x="726" y="763.05" font-size="13.3" text-anchor="start" font-weight="bold" fill="#1a1a1a" transform="rotate(-90 726 763.05)" textLength="94.5" lengthAdjust="spacingAndGlyphs">Expected Normal</text>
</g>
<g>
<line x1="746.2" y1="927.3" x2="1037.7" y2="927.3" stroke="#b9b9b9" stroke-width="1"/>
<text x="741.5" y="929.8" font-size="7" text-anchor="end" font-weight="bold" fill="#111">2</text>
<line x1="746.2" y1="945.3" x2="1037.7" y2="945.3" stroke="#b9b9b9" stroke-width="1"/>
<text x="741.5" y="947.8" font-size="7" text-anchor="end" font-weight="bold" fill="#111">1</text>
<line x1="746.2" y1="962.4" x2="1037.7" y2="962.4" stroke="#959595" stroke-width="1"/>
<text x="741.5" y="964.9" font-size="7" text-anchor="end" font-weight="bold" fill="#111">0</text>
<line x1="746.2" y1="980.2" x2="1037.7" y2="980.2" stroke="#959595" stroke-width="1"/>
<text x="741.5" y="982.7" font-size="7" text-anchor="end" font-weight="bold" fill="#111">-1</text>
<line x1="746.2" y1="997.4" x2="1037.7" y2="997.4" stroke="#959595" stroke-width="1"/>
<text x="741.5" y="999.9" font-size="7" text-anchor="end" font-weight="bold" fill="#111">-2</text>
<line x1="746.2" y1="1014.9" x2="1037.7" y2="1014.9" stroke="#959595" stroke-width="1"/>
<text x="741.5" y="1017.4" font-size="7" text-anchor="end" font-weight="bold" fill="#111">-3</text>
<line x1="746.2" y1="1032.2" x2="1037.7" y2="1032.2" stroke="#959595" stroke-width="1"/>
<text x="741.5" y="1034.7" font-size="7" text-anchor="end" font-weight="bold" fill="#111">-4</text>
<line x1="761" y1="921.7" x2="761" y2="1038" stroke="#e3e3e3" stroke-width="1"/>
<text x="761" y="1047.6" font-size="7.3" text-anchor="middle" font-weight="bold" fill="#111">20</text>
<line x1="813.3" y1="921.7" x2="813.3" y2="1038" stroke="#959595" stroke-width="1"/>
<text x="813.3" y="1047.6" font-size="7.3" text-anchor="middle" font-weight="bold" fill="#111">40</text>
<line x1="865.7" y1="921.7" x2="865.7" y2="1038" stroke="#e3e3e3" stroke-width="1"/>
<text x="865.7" y="1047.6" font-size="7.3" text-anchor="middle" font-weight="bold" fill="#111">60</text>
<line x1="917.7" y1="921.7" x2="917.7" y2="1038" stroke="#959595" stroke-width="1"/>
<text x="917.7" y="1047.6" font-size="7.3" text-anchor="middle" font-weight="bold" fill="#111">80</text>
<line x1="970.7" y1="921.7" x2="970.7" y2="1038" stroke="#959595" stroke-width="1"/>
<text x="970.7" y="1047.6" font-size="7.3" text-anchor="middle" font-weight="bold" fill="#111">100</text>
<line x1="1023.3" y1="921.7" x2="1023.3" y2="1038" stroke="#e3e3e3" stroke-width="1"/>
<text x="1023.3" y="1047.6" font-size="7.3" text-anchor="middle" font-weight="bold" fill="#111">120</text>
<line x1="746.2" y1="921.7" x2="746.2" y2="1038" stroke="#b4b4b4" stroke-width="1.1"/>
<line x1="746.2" y1="1038" x2="1037.7" y2="1038" stroke="#5a5a5a" stroke-width="1.2"/>
<circle cx="790.33" cy="987.67" r="2.1" fill="#9a9a9a" stroke="#111" stroke-width="1.1"/>
<circle cx="806.67" cy="983.33" r="2.1" fill="#9a9a9a" stroke="#111" stroke-width="1.1"/>
<circle cx="822.67" cy="977.67" r="2.1" fill="#9a9a9a" stroke="#111" stroke-width="1.1"/>
<circle cx="828.33" cy="975" r="2.1" fill="#9a9a9a" stroke="#111" stroke-width="1.1"/>
<circle cx="839.33" cy="973.33" r="2.1" fill="#9a9a9a" stroke="#111" stroke-width="1.1"/>
<circle cx="855.67" cy="972" r="2.1" fill="#9a9a9a" stroke="#111" stroke-width="1.1"/>
<circle cx="860.67" cy="971" r="2.1" fill="#9a9a9a" stroke="#111" stroke-width="1.1"/>
<circle cx="872" cy="969" r="2.1" fill="#9a9a9a" stroke="#111" stroke-width="1.1"/>
<circle cx="889" cy="966.33" r="2.1" fill="#9a9a9a" stroke="#111" stroke-width="1.1"/>
<circle cx="905" cy="963.33" r="2.1" fill="#9a9a9a" stroke="#111" stroke-width="1.1"/>
<circle cx="921" cy="960.33" r="2.1" fill="#9a9a9a" stroke="#111" stroke-width="1.1"/>
<circle cx="932.33" cy="958.33" r="2.1" fill="#9a9a9a" stroke="#111" stroke-width="1.1"/>
<circle cx="937.33" cy="957" r="2.1" fill="#9a9a9a" stroke="#111" stroke-width="1.1"/>
<circle cx="948.67" cy="954.33" r="2.1" fill="#9a9a9a" stroke="#111" stroke-width="1.1"/>
<circle cx="954.33" cy="950.33" r="2.1" fill="#9a9a9a" stroke="#111" stroke-width="1.1"/>
<circle cx="970" cy="934" r="2.1" fill="#9a9a9a" stroke="#111" stroke-width="1.1"/>
<line x1="781" y1="1016" x2="980.7" y2="929.3" stroke="#000" stroke-width="2.4"/>
<text x="770.7" y="916.7" font-size="10.8" text-anchor="start" font-weight="normal" fill="#111" stroke="#111" stroke-width="0.4" textLength="201.6" lengthAdjust="spacingAndGlyphs">Normal Q-Q Plot of PercentCorrect</text>
<text x="845.65" y="1071.5" font-size="11.2" text-anchor="start" font-weight="normal" fill="#111" stroke="#111" stroke-width="0.45" textLength="92.7" lengthAdjust="spacingAndGlyphs">Observed Value</text>
<text x="721" y="1027.3" font-size="13.3" text-anchor="start" font-weight="bold" fill="#1a1a1a" transform="rotate(-90 721 1027.3)" textLength="94.6" lengthAdjust="spacingAndGlyphs">Expected Normal</text>
</g>
</svg>
</body>
</html>
